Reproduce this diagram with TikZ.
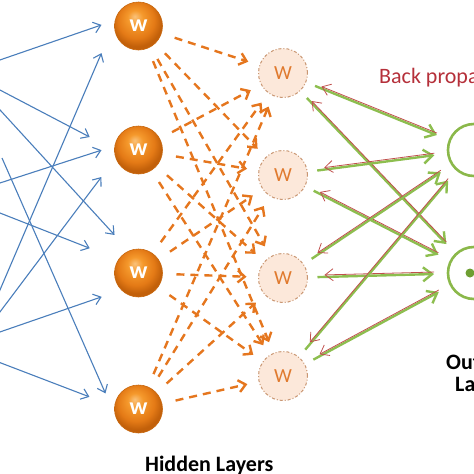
\documentclass[tikz,border=0pt]{standalone}
\usepackage{fontspec}
\setmainfont{Carlito}
\usetikzlibrary{arrows.meta}
\definecolor{obA}{HTML}{FAC27A}
\definecolor{obB}{HTML}{F5992C}
\definecolor{obC}{HTML}{E47A16}
\definecolor{obD}{HTML}{C2600A}
\definecolor{balledge}{HTML}{C8680F}
\definecolor{ghostfill}{HTML}{FCE8DA}
\definecolor{ghostedge}{HTML}{C99672}
\definecolor{ghosttext}{HTML}{E07A2E}
\definecolor{inblue}{HTML}{4A7EBB}
\definecolor{dorange}{HTML}{E5761E}
\definecolor{fgreen}{HTML}{8DBE4F}
\definecolor{outgreen}{HTML}{8BB84A}
\definecolor{dotgreen}{HTML}{6E9E32}
\definecolor{bred}{HTML}{C0504D}
\definecolor{bptext}{HTML}{B5303A}
\pgfdeclareradialshading{oball}{\pgfpoint{-4bp}{10bp}}{color(0bp)=(obA); color(8bp)=(obB); color(19bp)=(obC); color(26bp)=(obD); color(50bp)=(obD)}
\tikzset{
  ball/.style={circle, minimum size=48pt, inner sep=0pt, outer sep=0pt, draw=balledge, line width=0.6pt, shade, shading=oball, text=white, font=\bfseries\fontsize{24}{24}\selectfont},
  ghost/.style={circle, minimum size=49pt, inner sep=0pt, outer sep=0pt, fill=ghostfill, draw=ghostedge, dash pattern=on 3pt off 2pt on 1pt off 2pt, line width=1pt, text=ghosttext, font=\fontsize{20}{20}\selectfont},
  outn/.style={circle, minimum size=52pt, inner sep=0pt, outer sep=0pt, draw=outgreen, line width=2.6pt, fill=white},
  barrow/.style={draw=inblue, line width=1.1pt, -{Straight Barb[length=7pt,width=11pt]}},
  odash/.style={draw=dorange, line width=2.4pt, dash pattern=on 8pt off 6pt, -{Straight Barb[length=7pt,width=12pt]}, shorten <=14pt, shorten >=12pt},
  garrow/.style={draw=fgreen, line width=2.4pt, -{Straight Barb[length=9pt,width=14pt]}, shorten <=10pt, shorten >=14pt},
  rarrow/.style={draw=bred, line width=0.8pt, -{Straight Barb[length=8pt,width=12pt]}, shorten <=14pt, shorten >=17pt},
  lbl/.style={inner sep=0pt, font=\bfseries\fontsize{22}{22}\selectfont, text=black}
}
\begin{document}
\begin{tikzpicture}[x=1pt, y=-1pt]
\path[use as bounding box] (0,0) rectangle (474,474);
\clip (0,0) rectangle (474,474);
% hidden layer 1
\node[ball] (h1) at (138.5,26) {w};
\node[ball] (h2) at (138.5,150) {w};
\node[ball] (h3) at (138.5,273) {w};
\node[ball] (h4) at (138.5,409) {w};
% hidden layer 2
\node[ghost] (d1) at (283,73) {W};
\node[ghost] (d2) at (283,175) {W};
\node[ghost] (d3) at (283,278) {W};
\node[ghost] (d4) at (283,376) {W};
% output
\node[outn] (o1) at (474,150) {};
\node[outn] (o2) at (474,273) {};
\node[circle, fill=dotgreen, minimum size=9pt, inner sep=0pt] (o2dot) at (470,273) {};
% input free ends
\coordinate (i1) at (-10,63.4);
\coordinate (i2) at (-10,84.8);
\coordinate (i3) at (-10,99);
\coordinate (i4) at (-10,313.2);
\coordinate (i5) at (-10,186.2);
\coordinate (i6) at (-10,209.1);
\coordinate (i7) at (-10,325.2);
\coordinate (i8) at (2,158);
\coordinate (i9) at (-10,335.4);
\coordinate (i10) at (-10,358.8);
% blue arrows
\draw[barrow, shorten >=14.5pt] (i1) -- (h1.166);
\draw[barrow, shorten >=28pt] (i2) -- (h2.180);
\draw[barrow, shorten >=21.6pt] (i3) -- (h3.113);
\draw[barrow, shorten >=34pt] (i4) -- (h1.170);
\draw[barrow, shorten >=14pt] (i5) -- (h2.170);
\draw[barrow, shorten >=31pt] (i6) -- (h3.146);
\draw[barrow, shorten >=24pt] (i7) -- (h2.199);
\draw[barrow, shorten >=26pt] (i8) -- (h4.200);
\draw[barrow, shorten >=21pt] (i9) -- (h3.225);
\draw[barrow, shorten >=27pt] (i10) -- (h4.174);
% dashed orange arrows
\foreach \i in {1,2,3,4}{
  \foreach \j in {1,2,3,4}{
    \draw[odash] (h\i) -- (d\j);
  }
}
% green forward / red backward
\foreach \i in {1,2,3,4}{
  \foreach \j in {1,2}{
    \draw[garrow] (d\i) -- (o\j);
    \draw[rarrow, transform canvas={yshift=2pt}] (o\j) -- (d\i);
  }
}
% labels
\node[anchor=base west, inner sep=0pt, text=bptext, font=\fontsize{22}{22}\selectfont] (bp) at (379,83) {Back propagation};
\node[lbl, anchor=base west] (hl) at (145,471) {Hidden Layers};
\node[lbl, anchor=base west] (ol1) at (446,369) {Output};
\node[lbl, anchor=base west] (ol2) at (455,391) {Layer};
\end{tikzpicture}
\end{document}
